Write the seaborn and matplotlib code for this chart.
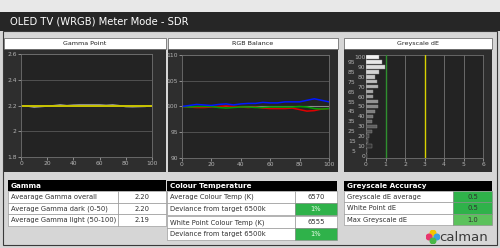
import numpy as np
import pandas as pd
import matplotlib
matplotlib.use("Agg")
import matplotlib.pyplot as plt
from matplotlib.patches import Rectangle, Circle
import seaborn as sns

# ---------------- data ----------------
title = "OLED TV (WRGB) Meter Mode - SDR"
stim = [0, 5, 10, 15, 20, 25, 30, 35, 40, 45, 50, 55, 60, 65, 70, 75, 80, 85, 90, 95, 100]

gamma_target = [2.2] * 21
gamma_meas = [2.200, 2.195, 2.185, 2.190, 2.195, 2.200, 2.207, 2.200, 2.205, 2.207, 2.207,
              2.207, 2.207, 2.203, 2.207, 2.200, 2.190, 2.188, 2.190, 2.192, 2.200]

rgb_red = [100.0, 99.9, 99.8, 99.8, 99.9, 100.0, 100.1, 100.0, 99.9, 99.8, 99.9,
           99.7, 99.6, 99.6, 99.6, 99.7, 99.4, 99.1, 99.2, 99.5, 99.6]
rgb_green = [100.0, 99.9, 100.0, 100.0, 100.0, 99.8, 99.7, 99.8, 99.9, 99.9, 99.8,
             99.8, 99.9, 99.9, 99.9, 99.9, 100.0, 99.9, 99.6, 99.5, 99.6]
rgb_blue = [100.0, 100.2, 100.4, 100.3, 100.2, 100.4, 100.5, 100.3, 100.5, 100.6, 100.6,
            100.8, 100.7, 100.7, 100.9, 100.9, 100.9, 101.2, 101.5, 101.2, 100.9]

grey_de = [0.03, 0.03, 0.32, 0.12, 0.17, 0.29, 0.54, 0.29, 0.37, 0.46, 0.63,
           0.63, 0.37, 0.37, 0.63, 0.54, 0.46, 0.66, 0.97, 0.80, 0.68]

gamma_rows = ["Avearage Gamma overall", "Average Gamma dark (0-50)", "Average Gamma light (50-100)"]
gamma_vals = ["2.20", "2.20", "2.19"]
ct_rows = ["Average Colour Temp (K)", "Deviance from target 6500k",
           "White Point Colour Temp (K)", "Deviance from target 6500k"]
ct_vals = ["6570", "1%", "6555", "1%"]
ga_rows = ["Greyscale dE average", "White Point dE", "Max Greyscale dE"]
ga_vals = ["0.5", "0.5", "1.0"]

# ---------------- figure ----------------
sns.set_theme(style="dark")
plt.rcParams["font.family"] = ["DejaVu Sans"]
W, H = 500, 248
fig = plt.figure(figsize=(W / 100, H / 100), dpi=100)
fig.patch.set_facecolor("#d6d6d6")


def rect(x, y, w, h, fc, ec="none", lw=0.0, z=0):
    fig.add_artist(Rectangle((x / W, 1 - (y + h) / H), w / W, h / H, transform=fig.transFigure,
                             facecolor=fc, edgecolor=ec, lw=lw, zorder=z))


def text(x, y, s, **kw):
    fig.text(x / W, 1 - y / H, s, **kw)


def fr(x, y, w, h):
    return [x / W, 1 - (y + h) / H, w / W, h / H]


# header strips
rect(0, 0, 500, 12, "#e8e8e8")
rect(0, 12, 500, 19, "#262626")
text(10, 21.5, title, color="white", fontsize=7.2, va="center", ha="left")
rect(3, 31, 494, 214, "none", ec="#3a3a3a", lw=0.8)

# chart panels
panels = [(4, 162, "Gamma Point"), (168, 170, "RGB Balance"), (344, 148, "Greyscale dE")]
for px, pw, name in panels:
    rect(px, 49, pw, 123, "#2e2e2e")
    rect(px, 38, pw, 11, "white", ec="#5a5a5a", lw=0.5)
    text(px + pw / 2, 43.5, name, color="#202020", fontsize=4.6, ha="center", va="center")

TICK = "#b4b4b4"
AXBG = "#232323"
GRID = "#585858"


def style_ax(ax):
    ax.set_facecolor(AXBG)
    for s in ax.spines.values():
        s.set_color("#707070")
        s.set_linewidth(0.6)
    ax.tick_params(colors=TICK, labelsize=4.3, length=2, width=0.5, pad=1,
                   bottom=True, left=True)
    ax.set_xlabel("")
    ax.set_ylabel("")


# Gamma
ax1 = fig.add_axes(fr(21, 54, 131, 103))
gdf = pd.DataFrame({"stim": stim, "meas": gamma_meas, "target": gamma_target})
sns.lineplot(data=gdf, x="stim", y="meas", color="#8c8c8c", lw=0.9, ax=ax1)
sns.lineplot(data=gdf, x="stim", y="target", color="#c9c400", lw=1.4, ax=ax1)
ax1.set_xlim(0, 100)
ax1.set_ylim(1.8, 2.6)
ax1.set_xticks(range(0, 101, 20))
ax1.set_yticks([1.8, 2.0, 2.2, 2.4, 2.6])
ax1.set_yticklabels(["1.8", "2", "2.2", "2.4", "2.6"])
ax1.yaxis.grid(True, color=GRID, lw=0.6)
ax1.xaxis.grid(False)
style_ax(ax1)

# RGB balance
ax2 = fig.add_axes(fr(182, 55, 147, 103))
rdf = pd.DataFrame({"stim": stim * 3,
                    "val": rgb_red + rgb_green + rgb_blue,
                    "ch": ["R"] * 21 + ["G"] * 21 + ["B"] * 21})
ax2.axhline(100, color="#8a8a8a", lw=0.8, zorder=1)
sns.lineplot(data=rdf, x="stim", y="val", hue="ch", hue_order=["R", "G", "B"],
             palette={"R": "#e00000", "G": "#00a000", "B": "#0018ff"}, lw=1.1,
             legend=False, ax=ax2)
ax2.set_xlim(0, 100)
ax2.set_ylim(90, 110)
ax2.set_xticks(range(0, 101, 20))
ax2.set_yticks([90, 95, 100, 105, 110])
ax2.yaxis.grid(True, color=GRID, lw=0.6)
ax2.xaxis.grid(False)
style_ax(ax2)

# Greyscale dE
ax3 = fig.add_axes(fr(366, 55, 117, 103))
ddf = pd.DataFrame({"stim": stim, "de": grey_de})
pal = {s: str(0.12 + 0.83 * s / 100) for s in stim}
sns.barplot(data=ddf, x="de", y="stim", hue="stim", palette=pal, orient="y",
            native_scale=True, dodge=False, legend=False, width=0.7,
            edgecolor="#909090", linewidth=0.3, ax=ax3, zorder=3)
ax3.set_xlim(0, 6)
ax3.set_ylim(-2, 102)
ax3.set_xticks(range(0, 7))
ax3.xaxis.grid(True, color="#6a6a6a", lw=0.7)
ax3.yaxis.grid(False)
ax3.axvline(1, color="#2f8f2f", lw=1.0, zorder=4)
ax3.axvline(3, color="#d8d200", lw=1.0, zorder=4)
style_ax(ax3)
ax3.set_yticks(stim)
ax3.set_yticklabels([str(s) for s in stim])
ax3.tick_params(axis="y", length=0)
for s, tk in zip(stim, ax3.yaxis.get_major_ticks()):
    tk.set_pad(0.5 if s % 10 == 0 else 7.5)


# tables
def table(x0, x1, xd, y0, hh, rh, head, rows, vals, fills, tcols, gaps=()):
    rect(x0, y0, x1 - x0, hh, "black", z=2)
    text(x0 + 3, y0 + hh / 2 + 0.3, head, color="white", fontsize=5.2, fontweight="bold",
         va="center", z=3) if False else text(x0 + 3, y0 + hh / 2 + 0.3, head, color="white",
                                               fontsize=5.2, fontweight="bold", va="center")
    y = y0 + hh
    for i, (r, v) in enumerate(zip(rows, vals)):
        if i in gaps:
            y += 1.5
        rect(x0, y, xd - x0, rh, "white", ec="#8a8a8a", lw=0.4, z=2)
        rect(xd, y, x1 - xd, rh, fills[i], ec="#8a8a8a", lw=0.4, z=2)
        text(x0 + 3, y + rh / 2 + 0.3, r, color="#303030", fontsize=4.9, va="center")
        text((xd + x1) / 2, y + rh / 2 + 0.3, v, color=tcols[i], fontsize=4.9,
             va="center", ha="center")
        y += rh


table(8, 166, 118, 180, 11, 11.5, "Gamma", gamma_rows, gamma_vals,
      ["white"] * 3, ["#303030"] * 3)
table(167, 337, 295, 181, 9.5, 12, "Colour Temperature", ct_rows, ct_vals,
      ["white", "#2fb24a", "white", "#2fb24a"],
      ["#303030", "#e8ffe8", "#303030", "#e8ffe8"], gaps=(2,))
table(344, 492, 453, 181, 9.5, 11.5, "Greyscale Accuracy", ga_rows, ga_vals,
      ["#2fb24a", "#2fb24a", "#5cc25c"], ["#303030"] * 3)

# calman logo
lax = fig.add_axes(fr(426, 230, 14, 14))
lax.set_xlim(0, 1)
lax.set_ylim(0, 1)
lax.axis("off")
for (cx, cy, c) in [(0.5, 0.78, "#f2c500"), (0.22, 0.5, "#e8366e"),
                    (0.78, 0.5, "#3aa0e0"), (0.5, 0.22, "#49b848")]:
    lax.add_patch(Circle((cx, cy), 0.2, color=c))
text(464, 237.5, "calman", color="#3a3a3a", fontsize=9.5, ha="center", va="center")

fig.savefig("out.png", dpi=100, facecolor=fig.get_facecolor())
